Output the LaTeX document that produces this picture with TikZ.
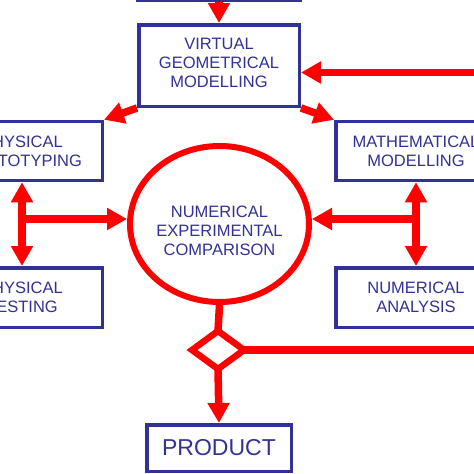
\documentclass[tikz,border=0pt]{standalone}
\usepackage{fontspec}
\setmainfont{Liberation Sans}
\usetikzlibrary{arrows.meta,shapes.geometric}
\definecolor{navy}{RGB}{50,50,150}
\definecolor{myred}{RGB}{255,0,0}
\begin{document}
\begin{tikzpicture}[x=1pt,y=-1pt,
 txt/.style={text=navy,align=center,inner sep=0pt,font=\fontsize{16.5}{19}\selectfont},
 box/.style={txt,draw=navy,line width=3.5pt},
 side/.style={box,minimum width=160.5pt,minimum height=59pt},
 conn/.style={draw=myred,line width=7.5pt},
 arr/.style={conn,-{Triangle[length=20pt,width=21pt]}},
 darr/.style={conn,{Triangle[length=20pt,width=21pt]}-{Triangle[length=20pt,width=21pt]}},
]
\useasboundingbox (0,0) rectangle (474,474);
\clip (0,0) rectangle (474,474);
\fill[white] (0,0) rectangle (474,474);
% nodes
\node[box,minimum width=162.5pt,minimum height=80pt] (src) at (219,-39.5) {};
\node[box,minimum width=160.5pt,minimum height=81.5pt,
  label={[txt,yshift=2.5pt]center:{VIRTUAL\\GEOMETRICAL\\MODELLING}}] (virt) at (219,65.5) {};
\node[side] (proto) at (22,151) {PHYSICAL\\PROTOTYPING};
\node[side] (math) at (416,151) {MATHEMATICAL\\MODELLING};
\node[side,minimum height=59.5pt] (test) at (22,297.5) {PHYSICAL\\TESTING};
\node[side,minimum height=59.5pt] (numan) at (416,297.5) {NUMERICAL\\ANALYSIS};
\node[ellipse,draw=myred,line width=6pt,minimum width=179pt,minimum height=156pt,inner sep=0pt,
  label={[txt,yshift=-7pt]center:{NUMERICAL\\EXPERIMENTAL\\COMPARISON}}] (ell) at (219.5,224) {};
\node[box,minimum width=144.5pt,minimum height=46.5pt,font=\fontsize{23}{27}\selectfont] (prod) at (219,448) {PRODUCT};
% decision diamond
\coordinate (dtop) at (218,331);
\coordinate (dright) at (244,350);
\coordinate (dbot) at (218,369);
\coordinate (dleft) at (192,350);
\draw[myred,line width=6.5pt,line join=miter] (dtop) -- (dright) -- (dbot) -- (dleft) -- cycle;
% free ends
\coordinate (fbR) at (480,72.5);
\coordinate (fbB) at (480,350);
\coordinate (pmid) at (22,219);
\coordinate (mmid) at (416,219);
% connectors
\draw[arr] (src.south) -- (virt.north);
\draw[arr] (fbR) -- (fbR -| virt.east);
\draw[arr] (virt.south west) -- (proto.north east);
\draw[arr] (virt.south east) -- (math.north west);
\draw[darr] (proto.south) -- (test.north);
\draw[darr] (math.south) -- (numan.north);
\draw[arr] (pmid) -- (pmid -| ell.west);
\draw[arr] (mmid) -- (mmid -| ell.east);
\draw[conn] (ell.south) -- (dtop);
\draw[arr] (dbot) -- (prod.north);
\draw[conn] (dright) -- (fbB);
\end{tikzpicture}
\end{document}
